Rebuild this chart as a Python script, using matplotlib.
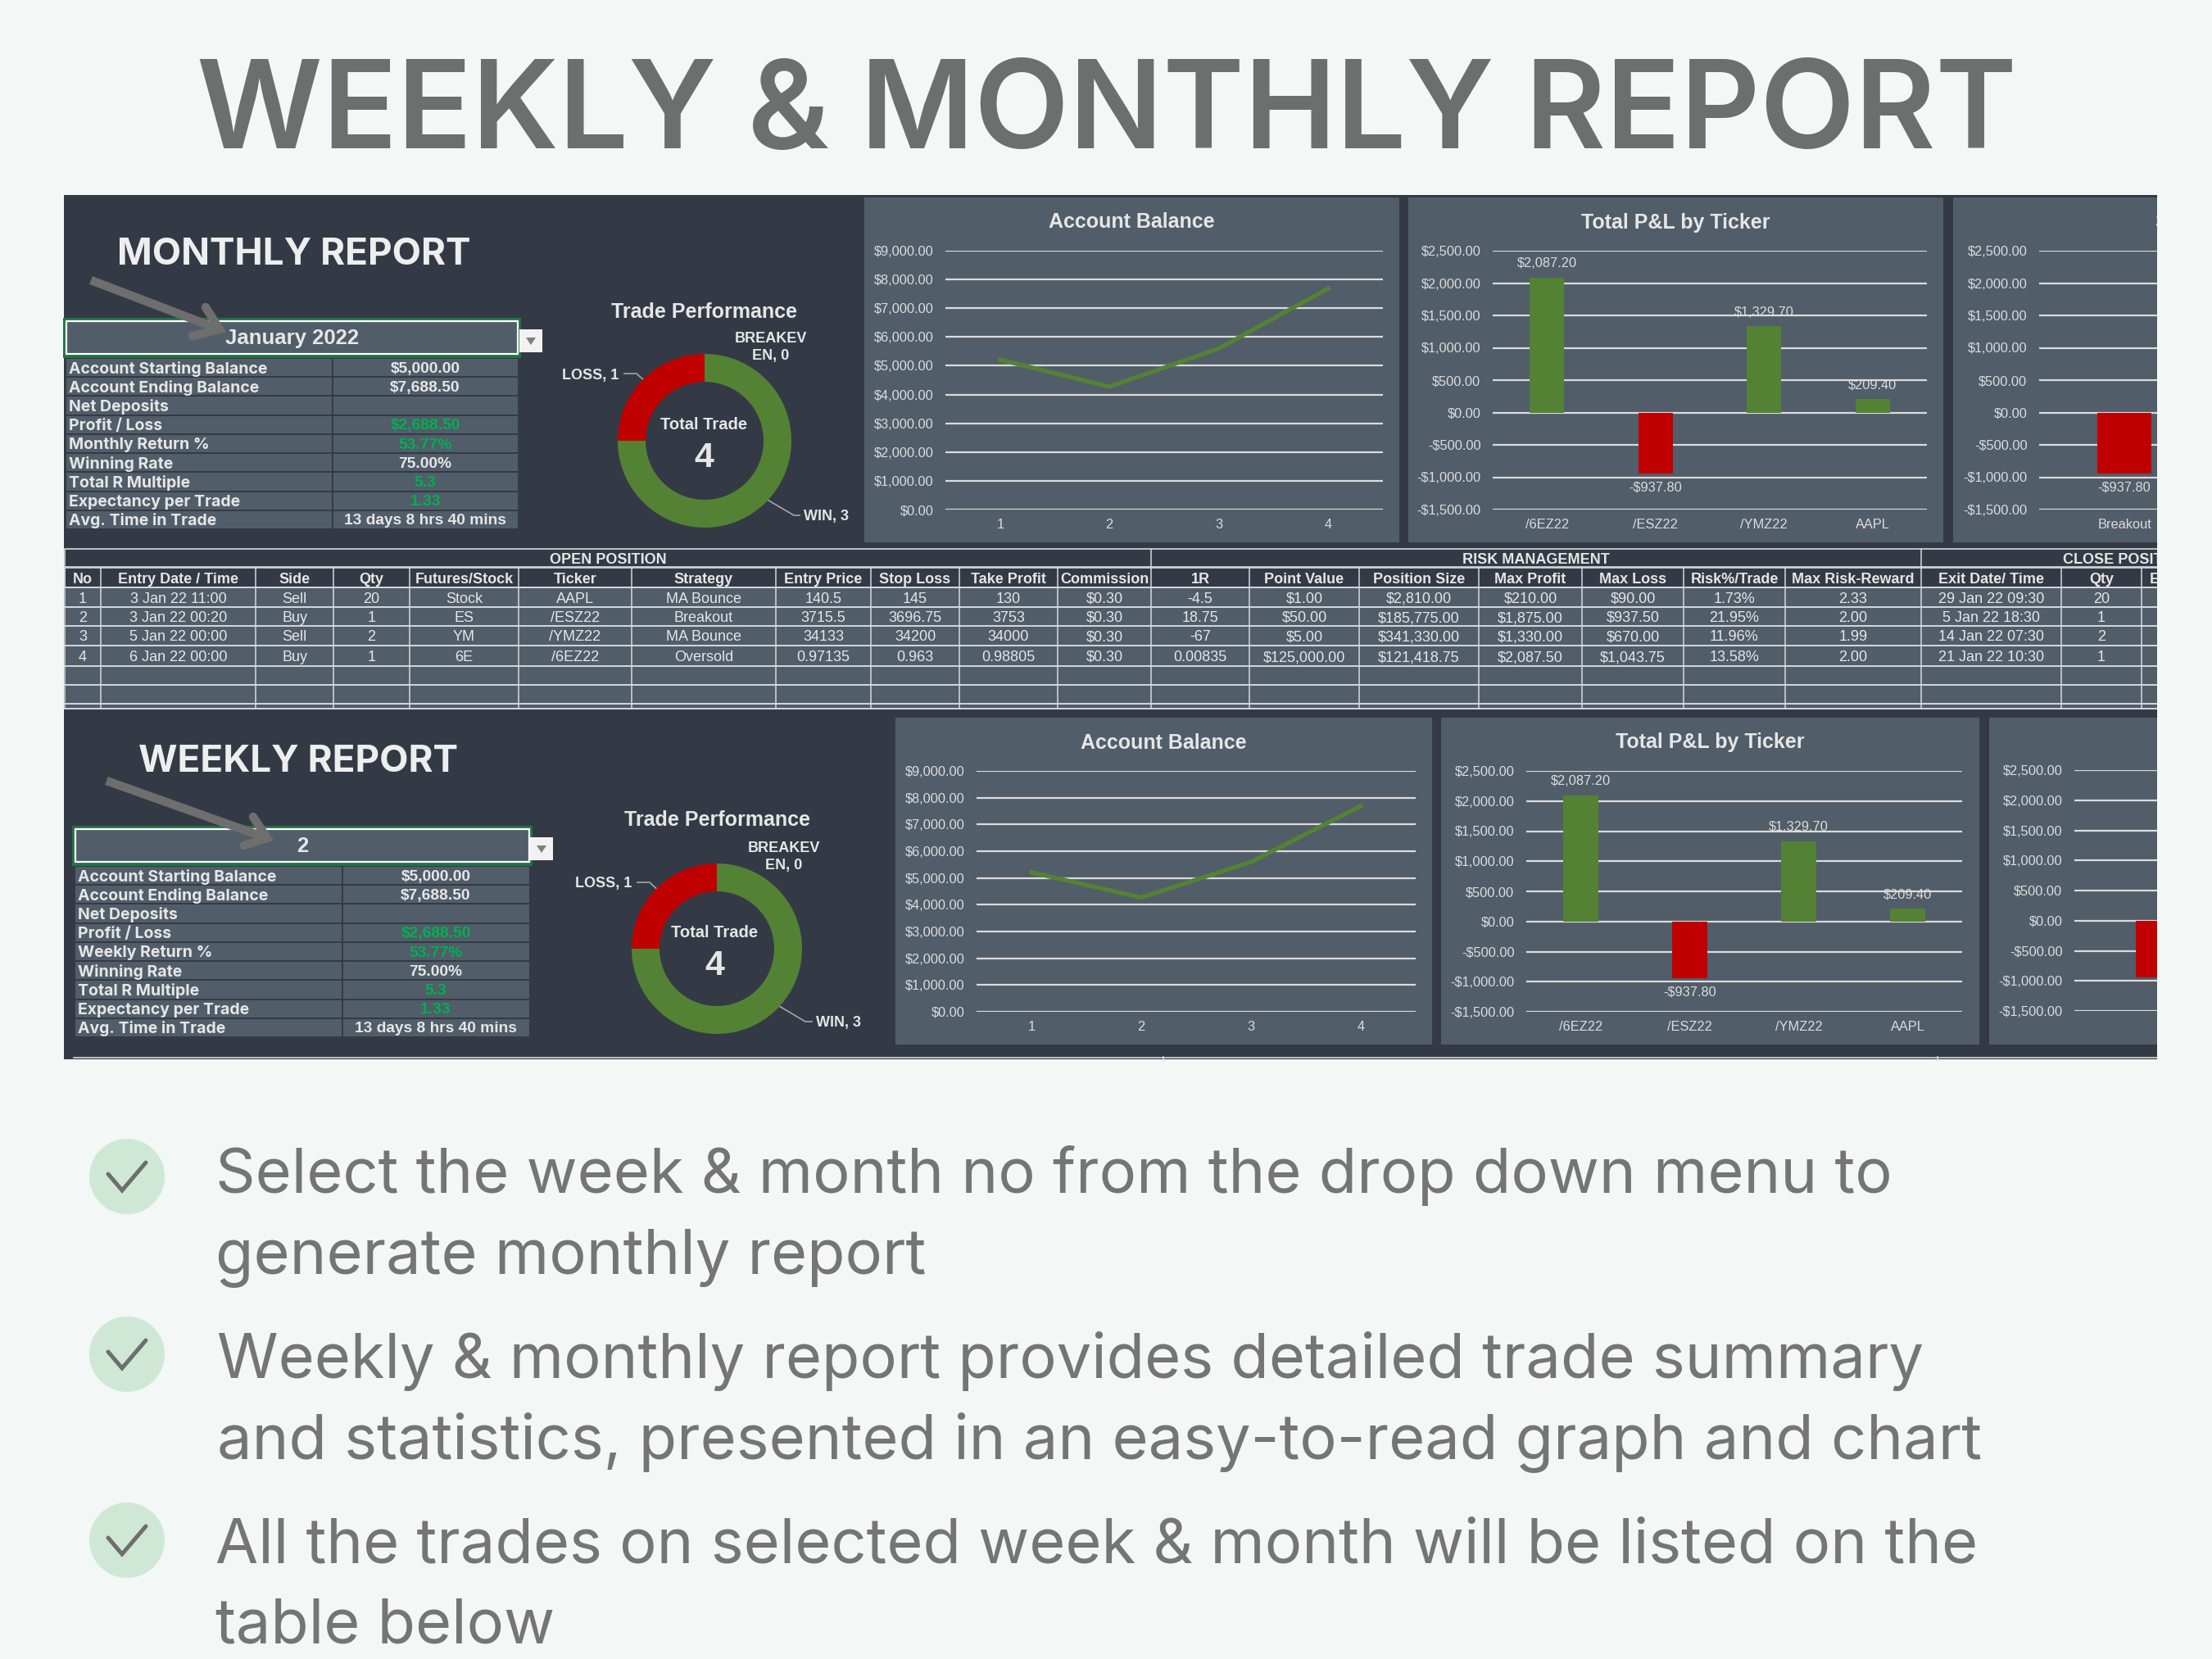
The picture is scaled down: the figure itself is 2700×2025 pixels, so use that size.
import matplotlib
matplotlib.use('Agg')
import matplotlib.pyplot as plt
from matplotlib.patches import Rectangle, Circle

W, H = 2700, 2025
BG = '#f3f7f6'
DARK = '#343a45'
PANEL = '#515d69'
GRID = '#dcdcdc'
TEXT = '#e6e6e6'
GREY = '#757575'
WIN_GREEN = '#548235'
LOSS_RED = '#c00000'
POS_GREEN = '#00b050'
ARIAL = 'Liberation Sans'
DISPLAY = 'Inter'

plt.rcParams['text.parse_math'] = False
plt.rcParams['font.family'] = ARIAL

# chart data
trade_no = [1, 2, 3, 4]
balance = [5209.40, 4271.60, 5601.30, 7688.50]
balance_ticks = [0, 1000, 2000, 3000, 4000, 5000, 6000, 7000, 8000, 9000]
tickers = ['/6EZ22', '/ESZ22', '/YMZ22', 'AAPL']
ticker_pnl = [2087.20, -937.80, 1329.70, 209.40]
strategies = ['Breakout', 'MA Bounce', 'Oversold']
strategy_pnl = [-937.80, 1539.10, 2087.20]
pnl_ticks = [-1500, -1000, -500, 0, 500, 1000, 1500, 2000, 2500]
perf_labels = ['BREAKEVEN', 'WIN', 'LOSS']
perf_values = [0, 3, 1]

# summary block
summary_labels = ['Account Starting Balance', 'Account Ending Balance', 'Net Deposits', 'Profit / Loss',
                  'Monthly Return %', 'Winning Rate', 'Total R Multiple', 'Expectancy per Trade',
                  'Avg. Time in Trade']
summary_values = ['$5,000.00', '$7,688.50', '', '$2,688.50', '53.77%', '75.00%', '5.3', '1.33',
                  '13 days 8 hrs 40 mins']
summary_green = [False, False, False, True, True, False, True, True, False]

# trade table
group_names = ['OPEN POSITION', 'RISK MANAGEMENT', 'CLOSE POSITION']
table_cols = ['No', 'Entry Date / Time', 'Side', 'Qty', 'Futures/Stock', 'Ticker', 'Strategy', 'Entry Price',
              'Stop Loss', 'Take Profit', 'Commission', '1R', 'Point Value', 'Position Size', 'Max Profit',
              'Max Loss', 'Risk%/Trade', 'Max Risk-Reward', 'Exit Date/ Time', 'Qty']
table_rows = [
    ['1', '3 Jan 22 11:00', 'Sell', '20', 'Stock', 'AAPL', 'MA Bounce', '140.5', '145', '130', '$0.30',
     '-4.5', '$1.00', '$2,810.00', '$210.00', '$90.00', '1.73%', '2.33', '29 Jan 22 09:30', '20'],
    ['2', '3 Jan 22 00:20', 'Buy', '1', 'ES', '/ESZ22', 'Breakout', '3715.5', '3696.75', '3753', '$0.30',
     '18.75', '$50.00', '$185,775.00', '$1,875.00', '$937.50', '21.95%', '2.00', '5 Jan 22 18:30', '1'],
    ['3', '5 Jan 22 00:00', 'Sell', '2', 'YM', '/YMZ22', 'MA Bounce', '34133', '34200', '34000', '$0.30',
     '-67', '$5.00', '$341,330.00', '$1,330.00', '$670.00', '11.96%', '1.99', '14 Jan 22 07:30', '2'],
    ['4', '6 Jan 22 00:00', 'Buy', '1', '6E', '/6EZ22', 'Oversold', '0.97135', '0.963', '0.98805', '$0.30',
     '0.00835', '$125,000.00', '$121,418.75', '$2,087.50', '$1,043.75', '13.58%', '2.00', '21 Jan 22 10:30', '1'],
]

col_edges = [79, 123, 312, 407, 500, 633, 771, 947, 1063, 1171, 1291, 1405, 1525, 1659, 1805, 1931, 2055, 2179,
             2345, 2516, 2614, 2660]
row_edges = [717, 741, 764, 788, 813, 836, 859, 865]

bullets = [
    (1436, [(263, 1456, 'Select the week & month no from the drop down menu to'),
            (263, 1554, 'generate monthly report')]),
    (1653, [(265, 1682, 'Weekly & monthly report provides detailed trade summary'),
            (265, 1780, 'and statistics, presented in an easy-to-read graph and chart')]),
    (1880, [(263, 1907, 'All the trades on selected week & month will be listed on the'),
            (263, 2005, 'table below')]),
]


def money(v):
    return f'-${abs(v):,.2f}' if v < 0 else f'${v:,.2f}'


def px_axes(x0, y0, x1, y1, **kw):
    ax = fig.add_axes([x0 / W, 1 - y1 / H, (x1 - x0) / W, (y1 - y0) / H], **kw)
    ax.patch.set_alpha(0)
    return ax


def style_chart(ax):
    for s in ax.spines.values():
        s.set_visible(False)
    ax.tick_params(length=0, labelcolor=GRID, labelsize=11.8)
    ax.tick_params(axis='y', pad=10.5)
    ax.tick_params(axis='x', pad=8)
    ax.grid(axis='y', color=GRID, lw=1.6)
    ax.set_axisbelow(True)


def rect(x0, y0, x1, y1, **kw):
    page.add_patch(Rectangle((x0, y0), x1 - x0, y1 - y0, **kw))


def balance_chart(x0, x1, y0, y1):
    ax = px_axes(x0, y0, x1, y1)
    style_chart(ax)
    ax.plot(trade_no, balance, color=WIN_GREEN, lw=3.8, solid_joinstyle='round')
    ax.set_yticks(balance_ticks, [money(v) for v in balance_ticks])
    ax.set_xticks(trade_no)
    ax.set_xlim(0.5, 4.5)
    ax.set_ylim(0, 9000)


def pnl_chart(x0, x1, y0, y1, cats, vals, cat_px, bar_w):
    ax = px_axes(x0, y0, x1, y1)
    style_chart(ax)
    xs = list(range(len(cats)))
    colors = [WIN_GREEN if v >= 0 else LOSS_RED for v in vals]
    ax.bar(xs, vals, width=bar_w, color=colors)
    for x, v in zip(xs, vals):
        ax.annotate(money(v), (x, v), xytext=(0, 12.5 if v >= 0 else -12.5), textcoords='offset points',
                    ha='center', va='center', color=GRID, fontsize=11.8, annotation_clip=True)
    ax.set_yticks(pnl_ticks, [money(v) for v in pnl_ticks])
    ax.set_xticks(xs, cats)
    ax.set_xlim(-0.5, -0.5 + (x1 - x0) / cat_px)
    ax.set_ylim(-1500, 2500)


def donut(cx, cy, r_out, r_in):
    ax = px_axes(cx - r_out, cy - r_out, cx + r_out, cy + r_out)
    ax.pie(perf_values, colors=[GRID, WIN_GREEN, LOSS_RED], startangle=90, counterclock=False, radius=1,
           wedgeprops=dict(width=1 - r_in / r_out))
    ax.set_xlim(-1, 1)
    ax.set_ylim(-1, 1)


def draw_report(title, title_x, title_base, period, return_label, box, split, val_x, rows_top, rows_bot,
                arrow, drop, cx, cy, r_out, r_in, title_y, brk_x, brk_y, loss_pts, win_pts, total_x, total_y):
    page.text(title_x, title_base, title, family=DISPLAY, weight='bold', fontsize=33, color='#eeeeee',
              va='baseline')
    bx0, by0, bx1, by1 = box
    rect(bx0 - 4, by0 - 4, bx1 + 4, by1 + 5, fc='#217346', ec='none')
    rect(bx0, by0, bx1, by1, fc=PANEL, ec='white', lw=1.6)
    page.text((bx0 + bx1) / 2, (by0 + by1) / 2 - 1.5, period, weight='bold', fontsize=18.5, color=TEXT,
              ha='center', va='center_baseline')
    # drop down button
    dx0, dy0, dx1, dy1 = drop
    rect(dx0, dy0, dx1, dy1, fc='#f2f2f2', ec='none')
    page.fill([dx0 + 8, dx1 - 8, (dx0 + dx1) / 2], [dy0 + 10, dy0 + 10, dy1 - 9], color='#7f7f7f', lw=0)
    # summary rows
    pitch = (rows_bot - rows_top) / len(summary_labels)
    labels = list(summary_labels)
    labels[4] = return_label
    for i, (lab, val, green) in enumerate(zip(labels, summary_values, summary_green)):
        y0 = rows_top + i * pitch
        rect(bx0, y0 + 1, split - 1, y0 + pitch - 1, fc=PANEL, ec='none')
        rect(split + 1, y0 + 1, bx1, y0 + pitch - 1, fc=PANEL, ec='none')
        page.text(bx0 + 3, y0 + pitch / 2 - 0.5, lab, family=DISPLAY, weight='bold', fontsize=14, color=TEXT,
                  va='center_baseline')
        page.text(val_x, y0 + pitch / 2 - 0.5, val, weight='bold', fontsize=13.8,
                  color=POS_GREEN if green else TEXT, ha='center', va='center_baseline')
    # pointer arrow
    tail, tip, barb1, barb2 = arrow
    page.plot([tail[0], tip[0]], [tail[1], tip[1]], color='#6e6e6e', lw=7.5, solid_capstyle='butt')
    page.plot([barb1[0], tip[0], barb2[0]], [barb1[1], tip[1], barb2[1]], color='#6e6e6e', lw=7.5,
              solid_joinstyle='miter', solid_capstyle='round')
    # donut
    page.text(cx, title_y, 'Trade Performance', weight='bold', fontsize=18, color=TEXT, ha='center',
              va='center_baseline')
    donut(cx, cy, r_out, r_in)
    page.text(brk_x, brk_y, 'BREAKEV', weight='bold', fontsize=13, color=TEXT, ha='center', va='center_baseline')
    page.text(brk_x, brk_y + 21, 'EN, 0', weight='bold', fontsize=13, color=TEXT, ha='center',
              va='center_baseline')
    page.text(loss_pts[0][0] - 7, loss_pts[0][1], 'LOSS, 1', weight='bold', fontsize=13, color=TEXT, ha='right',
              va='center_baseline')
    page.text(win_pts[-1][0] + 5, win_pts[-1][1], 'WIN, 3', weight='bold', fontsize=13, color=TEXT,
              va='center_baseline')
    for pts in (loss_pts, win_pts):
        page.plot([p[0] for p in pts], [p[1] for p in pts], color='#a6a6a6', lw=1.2)
    centre.text(total_x, total_y, 'Total Trade', weight='bold', fontsize=14.5, color=TEXT, ha='center',
                va='center_baseline')
    centre.text(total_x, total_y + 37, '4', weight='bold', fontsize=31, color=TEXT, ha='center',
                va='center_baseline')


fig = plt.figure(figsize=(W / 100, H / 100), dpi=100, facecolor=BG)
page = px_axes(0, 0, W, H)
page.set_xlim(0, W)
page.set_ylim(H, 0)
page.axis('off')

# text that sits on top of the donut axes
centre = px_axes(0, 0, W, H, zorder=5)
centre.set_xlim(0, W)
centre.set_ylim(H, 0)
centre.axis('off')

page.text(1351, 181, 'WEEKLY & MONTHLY REPORT', family=DISPLAY, weight='semibold', fontsize=108.5, color='#6d6e6e',
          ha='center', va='baseline')

rect(78, 238, 2640, 1293, fc=DARK, ec='none')

# chart panels
for x0, x1 in [(1055, 1708), (1719, 2372), (2384, 2640)]:
    rect(x0, 241, x1, 662, fc=PANEL, ec='none')
for x0, x1 in [(1093, 1748), (1759, 2416), (2428, 2640)]:
    rect(x0, 876, x1, 1275, fc=PANEL, ec='none')

for cx, y, txt in [(1381, 269, 'Account Balance'), (2045, 269, 'Total P&L by Ticker'),
                   (1420, 904, 'Account Balance'), (2087, 904, 'Total P&L by Ticker')]:
    page.text(cx, y, txt, weight='bold', fontsize=18, color=TEXT, ha='center', va='center_baseline')
page.text(2630, 269, 'S', weight='bold', fontsize=18, color=TEXT, va='center_baseline')

balance_chart(1154, 1688, 306, 622)
pnl_chart(1822, 2352, 306, 622, tickers, ticker_pnl, 132.5, 0.317)
pnl_chart(2489, 2633, 306, 622, strategies, strategy_pnl, 208, 0.317)
balance_chart(1192, 1728, 941, 1235)
pnl_chart(1863, 2395, 941, 1235, tickers, ticker_pnl, 133, 0.317)
pnl_chart(2532, 2633, 940, 1234, strategies, strategy_pnl, 216, 0.305)

draw_report('MONTHLY REPORT', 143, 323, 'January 2022', 'Monthly Return %', (81, 392, 632, 432), 406, 519, 437, 646,
            ((111, 342), (268, 402), (251, 375), (235, 410)), (634, 402, 662, 430),
            860, 538, 106, 72, 378, 941, 412,
            [(762, 456), (777, 456), (798, 475)], [(923, 602), (969, 629), (976, 629)], 859, 517)
draw_report('WEEKLY REPORT', 169, 942, '2', 'Weekly Return %', (92, 1012, 646, 1052), 418, 532, 1057, 1266,
            ((130, 953), (326, 1023), (309, 997), (298, 1032)), (647, 1022, 675, 1050),
            875, 1158, 104, 70, 999, 957, 1033,
            [(778, 1077), (793, 1077), (812, 1095)], [(936, 1219), (983, 1247), (991, 1247)], 872, 1137)

# trade table
LINE = '#d5d9dc'
rect(79, 670, 2660, 692, fc=DARK, ec=LINE, lw=1.2)
rect(79, 693, 2660, 717, fc=DARK, ec=LINE, lw=1.2)
rect(79, 717, 2660, 865, fc=PANEL, ec='none')
for x in col_edges[:-1]:
    page.plot([x, x], [693, 865], color=LINE, lw=1.1)
for x in (1405, 2345):
    page.plot([x, x], [670, 693], color=LINE, lw=1.1)
for y in row_edges:
    page.plot([79, 2660], [y, y], color=LINE, lw=1.4)

for name, x0, x1 in zip(group_names, (79, 1405, 2345), (1405, 2345, None)):
    if x1 is None:
        page.text(2518, 681, name, weight='bold', fontsize=13, color=TEXT, va='center_baseline')
    else:
        page.text((x0 + x1) / 2, 681, name, weight='bold', fontsize=13, color=TEXT, ha='center',
                  va='center_baseline')
for i, name in enumerate(table_cols):
    page.text((col_edges[i] + col_edges[i + 1]) / 2, 705, name, weight='bold', fontsize=13, color=TEXT,
              ha='center', va='center_baseline')
page.text(2624, 705, 'Exit', weight='bold', fontsize=13, color=TEXT, va='center_baseline')
for r, row in enumerate(table_rows):
    ym = (row_edges[r] + row_edges[r + 1]) / 2
    for i, val in enumerate(row):
        page.text((col_edges[i] + col_edges[i + 1]) / 2, ym, val, fontsize=13, color=TEXT, ha='center',
                  va='center_baseline')

# rule along the bottom of the dashboard
page.plot([90, 2640], [1291, 1291], color=LINE, lw=1.2)
for x in (1420, 2365):
    page.plot([x, x], [1290, 1294], color=LINE, lw=1.2)

# bullet list
for cy, lines in bullets:
    page.add_patch(Circle((155, cy), 46, fc='#cfe8d6', ec='none'))
    page.plot([132, 149, 178], [cy - 3, cy + 17, cy - 17], color='#6e6e6e', lw=3.6, solid_capstyle='round',
              solid_joinstyle='miter')
    for x, base, txt in lines:
        page.text(x, base, txt, family=DISPLAY, fontsize=54.5, color=GREY, va='baseline')

# right margin hides whatever runs off the screenshot
cover = px_axes(2633, 0, W, H, zorder=10)
cover.patch.set_alpha(1)
cover.set_facecolor(BG)
cover.set_xticks([])
cover.set_yticks([])
for s in cover.spines.values():
    s.set_visible(False)

page.set_xlim(0, W)
page.set_ylim(H, 0)
fig.savefig('out.png', dpi=100, facecolor=BG)
